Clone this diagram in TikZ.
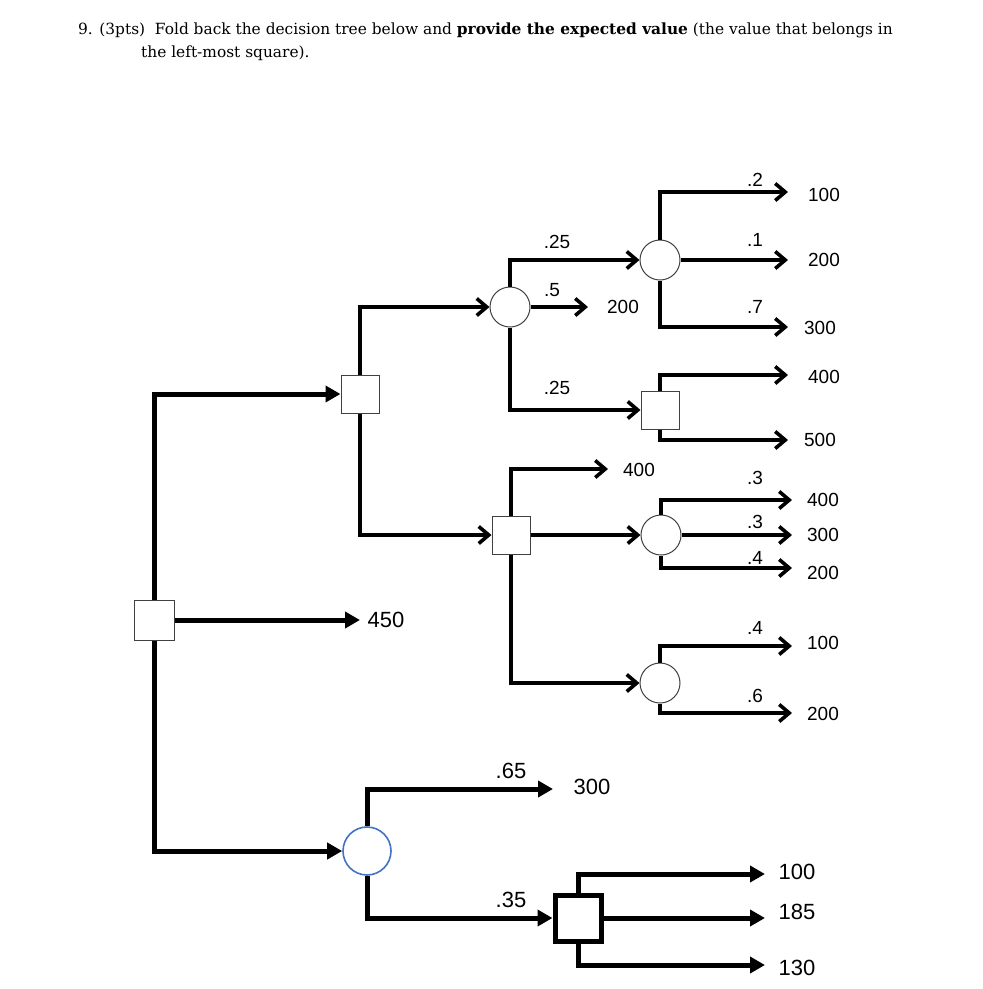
\documentclass[tikz,border=0pt]{standalone}
\usepackage{fontspec}
\setmainfont{Liberation Sans}
\newfontfamily\titlefont{DejaVu Serif}
\usetikzlibrary{arrows.meta}
\definecolor{nodeblue}{HTML}{4472C4}
\begin{document}
\begin{tikzpicture}[x=1pt,y=-1pt,
  chance/.style={circle,draw=black!75,line width=1pt,fill=white,minimum size=40pt,inner sep=0pt},
  decis/.style={rectangle,draw=black!75,line width=1pt,fill=white,minimum size=38pt,inner sep=0pt},
  br/.style={line width=3.6pt,-{Straight Barb[length=10pt,width=17pt]}},
  brk/.style={line width=5pt,-{Triangle[length=15pt,width=16pt]}},
  prob/.style={font=\fontsize{19}{22}\selectfont,inner sep=0pt},
  val/.style={font=\fontsize{19}{22}\selectfont,inner sep=0pt},
  probk/.style={font=\fontsize{22}{26}\selectfont,inner sep=0pt},
  title/.style={font=\titlefont\fontsize{15.4}{18}\selectfont,inner sep=0pt,anchor=base west},
  ]
\useasboundingbox[fill=white] (0,0) rectangle (983,989);
% title
\node[title] (t1) at (78,34) {9. (3pts)\ \ Fold back the decision tree below and \textbf{provide the expected value} (the value that belongs in};
\node[title] (t2) at (141,57) {the left-most square).};
% nodes
\node[decis,minimum size=40pt] (sq1) at (154,620) {};
\node[decis] (sq2) at (360,394) {};
\node[chance] (cA) at (510,307) {};
\node[decis] (sq3) at (511,535) {};
\node[chance] (cB) at (660,260) {};
\node[decis] (sqC) at (660,410) {};
\node[chance] (cD) at (661,535) {};
\node[chance] (cE) at (660,683) {};
\node[circle,draw=nodeblue,line width=1.6pt,fill=white,minimum size=48pt,inner sep=0pt] (bc) at (367,851) {};
\node[rectangle,draw=black,line width=5pt,fill=white,minimum size=46pt,inner sep=0pt] (sqF) at (578,918) {};
% free ends
\coordinate (e450) at (360,620);
\coordinate (eA5) at (588,307);
\coordinate (eB1) at (788,192);
\coordinate (eB2) at (788,260);
\coordinate (eB3) at (788,327);
\coordinate (eC1) at (788,375);
\coordinate (eC2) at (788,440);
\coordinate (e3t) at (608,469);
\coordinate (eD1) at (792,500);
\coordinate (eD2) at (792,535);
\coordinate (eD3) at (792,568);
\coordinate (eE1) at (792,646);
\coordinate (eE2) at (792,713);
\coordinate (eb1) at (553,789);
\coordinate (eF1) at (765,874);
\coordinate (eF2) at (765,918);
\coordinate (eF3) at (765,965);
% thick connectors
\draw[brk] (sq1.north) |- (sq2.west);
\draw[brk] (sq1.east) -- (e450);
\draw[brk] (sq1.south) |- (bc.west);
\draw[brk] (bc.north) |- (eb1);
\draw[brk] (bc.south) |- (sqF.west);
\draw[brk] (sqF.north) |- (eF1);
\draw[brk] (sqF.east) -- (eF2);
\draw[brk] (sqF.south) |- (eF3);
% upper connectors
\draw[br] (sq2.north) |- (cA.west);
\draw[br] (sq2.south) |- (sq3.west);
\draw[br] (cA.north) |- (cB.west);
\draw[br] (cA.east) -- (eA5);
\draw[br] (cA.south) |- (sqC.west);
\draw[br] (cB.north) |- (eB1);
\draw[br] (cB.east) -- (eB2);
\draw[br] (cB.south) |- (eB3);
\draw[br] (sqC.north) |- (eC1);
\draw[br] (sqC.south) |- (eC2);
\draw[br] (sq3.north) |- (e3t);
\draw[br] (sq3.east) -- (cD.west);
\draw[br] (sq3.south) |- (cE.west);
\draw[br] (cD.north) |- (eD1);
\draw[br] (cD.east) -- (eD2);
\draw[br] (cD.south) |- (eD3);
\draw[br] (cE.north) |- (eE1);
\draw[br] (cE.south) |- (eE2);
% probabilities
\node[prob] (p1) at (557,242) {.25};
\node[prob] (p2) at (552,290) {.5};
\node[prob] (p3) at (557,388) {.25};
\node[prob] (p4) at (755,180) {.2};
\node[prob] (p5) at (755,240) {.1};
\node[prob] (p6) at (755,307) {.7};
\node[prob] (p7) at (755,478) {.3};
\node[prob] (p8) at (755,522) {.3};
\node[prob] (p9) at (755,558) {.4};
\node[prob] (p10) at (755,628) {.4};
\node[prob] (p11) at (755,696) {.6};
% values
\node[val] (v1) at (824,195) {100};
\node[val] (v2) at (824,260) {200};
\node[val] (v3) at (820,328) {300};
\node[val] (v4) at (824,377) {400};
\node[val] (v5) at (820,440) {500};
\node[val] (v6) at (623,307) {200};
\node[val] (v7) at (639,470) {400};
\node[val] (v8) at (823,500) {400};
\node[val] (v9) at (823,535) {300};
\node[val] (v10) at (823,573) {200};
\node[val] (v11) at (823,643) {100};
\node[val] (v12) at (823,714) {200};
% bottom labels
\node[probk] (q1) at (386,620) {450};
\node[probk] (q2) at (511,771) {.65};
\node[probk] (q3) at (592,787) {300};
\node[probk] (q4) at (511,900) {.35};
\node[probk] (q5) at (797,872) {100};
\node[probk] (q6) at (797,912) {185};
\node[probk] (q7) at (797,968) {130};
\end{tikzpicture}
\end{document}
